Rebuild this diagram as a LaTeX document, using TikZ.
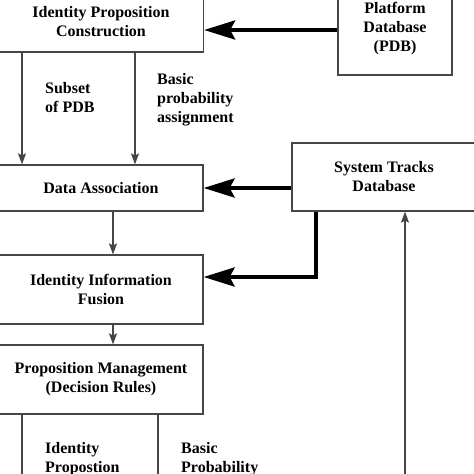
\documentclass[tikz,border=0pt]{standalone}
\usepackage{fontspec}
\setmainfont{Liberation Serif}
\usepackage{tikz}
\usetikzlibrary{arrows.meta,positioning,calc}
\definecolor{boxgray}{RGB}{70,70,70}

\begin{document}
\begin{tikzpicture}[
      x=1pt, y=-1pt,
      blk/.style={draw=boxgray, line width=1.2pt, fill=white, align=center,
        font=\bfseries\fontsize{16}{19}\selectfont, inner sep=0pt},
      lab/.style={align=left, anchor=west, inner sep=0pt, font=\bfseries\fontsize{16}{19}\selectfont},
      flow/.style={draw=boxgray, line width=1.1pt, -{Stealth[length=11pt,width=8pt,inset=2pt]}},
      fat/.style={draw=black, line width=4pt, -{Stealth[length=31pt,width=19pt,inset=5pt]}},
      plain/.style={draw=boxgray, line width=1.1pt}
    ]
      \useasboundingbox (0,0) rectangle (474,474);
      \clip (0,0) rectangle (474,474);

      % boxes
      \node[blk, minimum width=205pt, minimum height=60pt] (ipc) at (101,22)
        {Identity Proposition\\Construction};
      \node[blk, minimum width=114pt, minimum height=92pt] (pdb) at (395,29)
        {Platform\\Database\\(PDB)};
      \node[blk, minimum width=204pt, minimum height=46pt] (da) at (101,188)
        {Data Association};
      \node[blk, minimum width=184pt, minimum height=68pt] (std) at (384,177)
        {System Tracks\\Database};
      \node[blk, minimum width=204pt, minimum height=69pt] (iif) at (101,289.5)
        {Identity Information\\Fusion};
      \node[blk, minimum width=204pt, minimum height=69pt] (pm) at (101,379.5)
        {Proposition Management\\(Decision Rules)};

      % flows
      \draw[fat] (pdb.west |- 0,30) -- (ipc.east |- 0,30);
      \draw[flow] (ipc.south -| 22,0) -- (da.north -| 22,0);
      \draw[flow] (ipc.south -| 135,0) -- (da.north -| 135,0);
      \node[lab] (sub) at (45,98) {Subset\\of PDB};
      \node[lab] (bpa) at (157,100) {Basic\\probability\\assignment};

      \draw[fat] (std.west |- da.east) -- (da.east);
      \draw[fat] (std.south -| 316,0) |- (iif.east |- 0,277);
      \draw[flow] (da.south -| 113,0) -- (iif.north -| 113,0);
      \draw[flow] (iif.south -| 113,0) -- (pm.north -| 113,0);

      \coordinate (upend) at (405,480);
      \draw[flow] (upend) -- (upend |- std.south);

      \coordinate (idend) at (22,480);
      \coordinate (bpend) at (158,480);
      \draw[plain] (pm.south -| idend) -- (idend);
      \draw[plain] (pm.south -| bpend) -- (bpend);
      \node[lab] (idp) at (45,459) {Identity\\Propostion};
      \node[lab] (bpb) at (181,459) {Basic\\Probability};
    \end{tikzpicture}
\end{document}
